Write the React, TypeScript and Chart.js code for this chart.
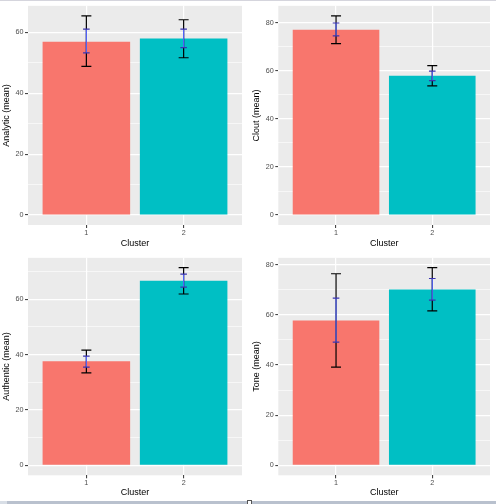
import React, { useEffect, useRef } from 'react';
import { Chart, registerables } from 'chart.js';

Chart.register(...registerables);

// ---------- data ----------
const categories = ['1', '2'];
const barColors = ['#F8766D', '#00BFC4'];

const analyticMean = [57.0, 58.0];
const analyticOuterLow = [48.9, 51.7];
const analyticOuterHigh = [65.5, 64.2];
const analyticInnerLow = [53.3, 55.0];
const analyticInnerHigh = [61.1, 61.1];
const analyticTicks = [0, 20, 40, 60];

const cloutMean = [77.1, 57.9];
const cloutOuterLow = [71.3, 53.7];
const cloutOuterHigh = [82.9, 62.2];
const cloutInnerLow = [74.5, 55.9];
const cloutInnerHigh = [79.9, 59.9];
const cloutTicks = [0, 20, 40, 60, 80];

const authenticMean = [37.6, 66.7];
const authenticOuterLow = [33.4, 61.9];
const authenticOuterHigh = [41.6, 71.4];
const authenticInnerLow = [35.5, 64.4];
const authenticInnerHigh = [39.5, 69.1];
const authenticTicks = [0, 20, 40, 60];

const toneMean = [57.8, 70.1];
const toneOuterLow = [39.2, 61.6];
const toneOuterHigh = [76.4, 78.8];
const toneInnerLow = [49.1, 65.9];
const toneInnerHigh = [66.7, 74.5];
const toneTicks = [0, 20, 40, 60, 80];

const xTitle = 'Cluster';

// ---------- layout / style ----------
const FONT = "'Liberation Sans', Arial, Helvetica, sans-serif";
const PANEL_BG = '#EBEBEB';

type PanelProps = {
  yTitle: string;
  mean: number[];
  outerLow: number[];
  outerHigh: number[];
  innerLow: number[];
  innerHigh: number[];
  ticks: number[];
  left: number;
  top: number;
  padTop: number;
  yAxisWidth: number;
  xAxisHeight: number;
  yTitlePad: number;
  xTitlePad: number;
};

const W = 248;
const H = 252;

function Panel(p: PanelProps) {
  const ref = useRef<HTMLCanvasElement | null>(null);

  useEffect(() => {
    const canvas = ref.current;
    if (!canvas) return;

    const hi = Math.max(...p.outerHigh);
    const yMin = -0.05 * hi;
    const yMax = 1.05 * hi;
    const step = p.ticks[1] - p.ticks[0];
    const minor = p.ticks.map((t) => t + step / 2).filter((v) => v <= yMax);
    const allTicks = [...p.ticks, ...minor].sort((a, b) => a - b);
    const isMajor = (v: number) => p.ticks.some((t) => Math.abs(t - v) < 1e-6);

    const bgPlugin = {
      id: 'panelBg',
      beforeDraw(chart: any) {
        const { ctx, chartArea } = chart;
        ctx.save();
        ctx.fillStyle = PANEL_BG;
        ctx.fillRect(chartArea.left, chartArea.top, chartArea.right - chartArea.left, chartArea.bottom - chartArea.top);
        ctx.restore();
      },
    };

    const errPlugin = {
      id: 'errBars',
      afterDatasetsDraw(chart: any) {
        const { ctx } = chart;
        const xs = chart.scales.x;
        const ys = chart.scales.y;
        ctx.save();
        categories.forEach((_, i) => {
          const x = xs.getPixelForValue(i + 1);
          const yl = ys.getPixelForValue(p.outerLow[i]);
          const yh = ys.getPixelForValue(p.outerHigh[i]);
          ctx.strokeStyle = '#000000';
          ctx.lineWidth = 1.2;
          ctx.beginPath();
          ctx.moveTo(x, yl);
          ctx.lineTo(x, yh);
          ctx.moveTo(x - 5, yl);
          ctx.lineTo(x + 5, yl);
          ctx.moveTo(x - 5, yh);
          ctx.lineTo(x + 5, yh);
          ctx.stroke();

          const il = ys.getPixelForValue(p.innerLow[i]);
          const ih = ys.getPixelForValue(p.innerHigh[i]);
          ctx.strokeStyle = '#5566FF';
          ctx.lineWidth = 1.2;
          ctx.beginPath();
          ctx.moveTo(x, il);
          ctx.lineTo(x, ih);
          ctx.stroke();
          ctx.strokeStyle = '#3A33B0';
          ctx.beginPath();
          ctx.moveTo(x - 3.3, il);
          ctx.lineTo(x + 3.3, il);
          ctx.moveTo(x - 3.3, ih);
          ctx.lineTo(x + 3.3, ih);
          ctx.stroke();
        });
        ctx.restore();
      },
    };

    const chart = new Chart(canvas, {
      type: 'bar',
      data: {
        datasets: [
          {
            data: categories.map((_, i) => ({ x: i + 1, y: p.mean[i] })) as any,
            backgroundColor: barColors,
            borderWidth: 0,
            categoryPercentage: 1,
            barPercentage: 0.9,
          },
        ],
      },
      options: {
        responsive: false,
        maintainAspectRatio: false,
        animation: false,
        events: [],
        layout: { padding: { left: 0, right: 6, top: p.padTop, bottom: 0 } },
        plugins: { legend: { display: false }, tooltip: { enabled: false } },
        scales: {
          x: {
            type: 'linear',
            offset: false,
            min: 0.4,
            max: 2.6,
            afterBuildTicks: (s: any) => {
              s.ticks = categories.map((_, i) => ({ value: i + 1 }));
            },
            afterFit: (s: any) => {
              s.height = p.xAxisHeight;
            },
            ticks: {
              autoSkip: false,
              maxRotation: 0,
              minRotation: 0,
              padding: 0.5,
              color: '#4D4D4D',
              font: { family: FONT, size: 7.2 },
              callback: (v: any) => categories[Math.round(Number(v)) - 1] ?? '',
            },
            grid: {
              offset: false,
              color: '#FFFFFF',
              lineWidth: 1.2,
              drawTicks: true,
              tickLength: 3,
              tickColor: '#333333',
              tickWidth: 1,
            },
            border: { display: false },
            title: {
              display: true,
              text: xTitle,
              color: '#000000',
              font: { family: FONT, size: 9 },
              padding: { top: 0, bottom: p.xTitlePad },
            },
          },
          y: {
            type: 'linear',
            min: yMin,
            max: yMax,
            afterBuildTicks: (s: any) => {
              s.ticks = allTicks.map((v) => ({ value: v }));
            },
            afterFit: (s: any) => {
              s.width = p.yAxisWidth;
            },
            ticks: {
              autoSkip: false,
              padding: 1.5,
              color: '#4D4D4D',
              font: { family: FONT, size: 7.2 },
              callback: (v: any) => (isMajor(Number(v)) ? String(v) : ''),
            },
            grid: {
              color: '#FFFFFF',
              lineWidth: (c: any) => (c.tick && isMajor(c.tick.value) ? 1.2 : 0.6),
              drawTicks: true,
              tickLength: 3,
              tickColor: (c: any) => (c.tick && isMajor(c.tick.value) ? '#333333' : 'rgba(0,0,0,0)'),
              tickWidth: 1,
            },
            border: { display: false },
            title: {
              display: true,
              text: p.yTitle,
              color: '#000000',
              font: { family: FONT, size: 9 },
              padding: { top: p.yTitlePad, bottom: 0 },
            },
          },
        },
      } as any,
      plugins: [bgPlugin, errPlugin],
    });

    return () => chart.destroy();
  }, []);

  return (
    <canvas
      ref={ref}
      width={W}
      height={H}
      style={{ position: 'absolute', left: p.left, top: p.top, width: W, height: H }}
    />
  );
}

export default function App() {
  useEffect(() => {
    document.body.style.margin = '0';
  }, []);

  return (
    <div style={{ position: 'relative', width: 496, height: 504, background: '#FFFFFF', overflow: 'hidden' }}>
      <Panel
        yTitle="Analytic (mean)"
        mean={analyticMean}
        outerLow={analyticOuterLow}
        outerHigh={analyticOuterHigh}
        innerLow={analyticInnerLow}
        innerHigh={analyticInnerHigh}
        ticks={analyticTicks}
        left={0}
        top={0}
        padTop={5}
        yAxisWidth={28}
        xAxisHeight={27}
        yTitlePad={1}
        xTitlePad={2.6}
      />
      <Panel
        yTitle="Clout (mean)"
        mean={cloutMean}
        outerLow={cloutOuterLow}
        outerHigh={cloutOuterHigh}
        innerLow={cloutInnerLow}
        innerHigh={cloutInnerHigh}
        ticks={cloutTicks}
        left={248}
        top={0}
        padTop={5}
        yAxisWidth={30.3}
        xAxisHeight={27}
        yTitlePad={3.3}
        xTitlePad={2.6}
      />
      <Panel
        yTitle="Authentic (mean)"
        mean={authenticMean}
        outerLow={authenticOuterLow}
        outerHigh={authenticOuterHigh}
        innerLow={authenticInnerLow}
        innerHigh={authenticInnerHigh}
        ticks={authenticTicks}
        left={0}
        top={252}
        padTop={3.3}
        yAxisWidth={28}
        xAxisHeight={28.7}
        yTitlePad={1.3}
        xTitlePad={5.9}
      />
      <Panel
        yTitle="Tone (mean)"
        mean={toneMean}
        outerLow={toneOuterLow}
        outerHigh={toneOuterHigh}
        innerLow={toneInnerLow}
        innerHigh={toneInnerHigh}
        ticks={toneTicks}
        left={248}
        top={252}
        padTop={3.3}
        yAxisWidth={30.3}
        xAxisHeight={28.7}
        yTitlePad={3.3}
        xTitlePad={5.9}
      />
      <div style={{ position: 'absolute', left: 0, top: 0, width: 496, height: 1, background: '#D5D5DD' }} />
      <div style={{ position: 'absolute', left: 0, top: 501, width: 496, height: 3, background: '#B9C1CE' }} />
      <div style={{ position: 'absolute', left: 0, top: 501, width: 7, height: 3, background: '#D8DEE6' }} />
      <div
        style={{
          position: 'absolute',
          left: 247,
          top: 500,
          width: 3,
          height: 4,
          background: '#FFFFFF',
          border: '1px solid #555555',
          boxSizing: 'content-box',
        }}
      />
    </div>
  );
}
